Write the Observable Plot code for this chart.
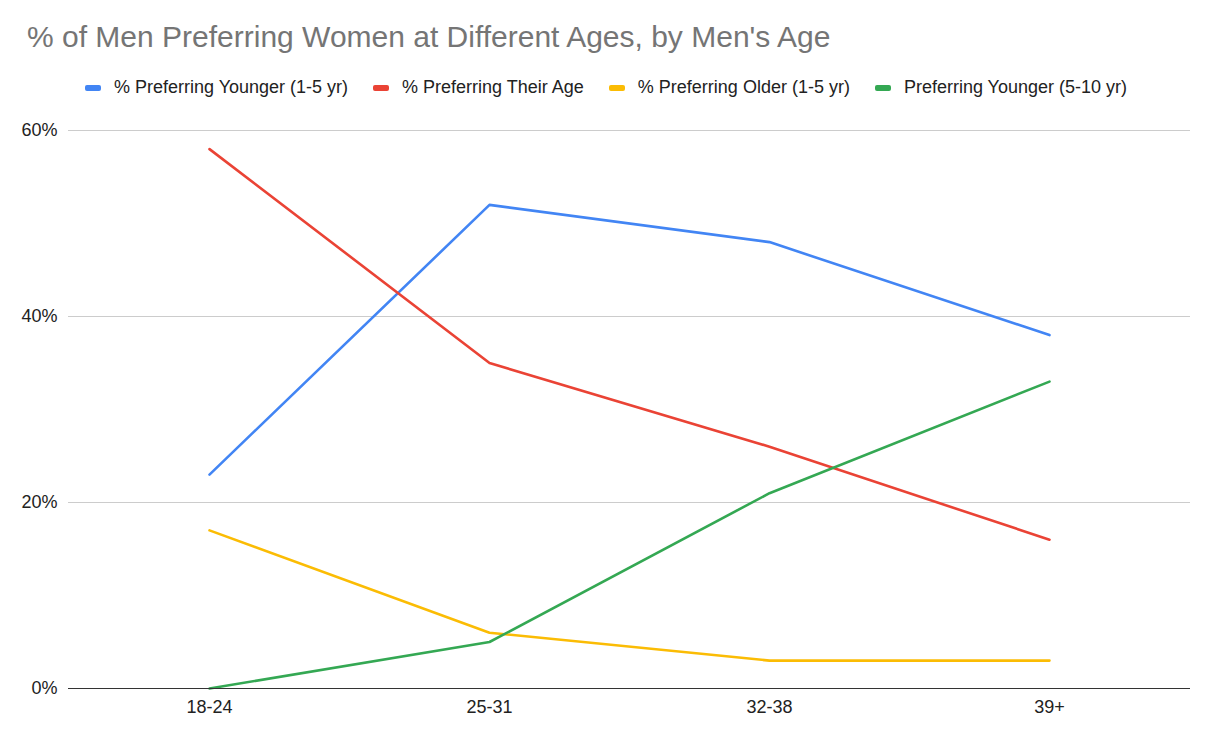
<!DOCTYPE html>
<html>
<head>
<meta charset="utf-8">
<script src="https://cdn.jsdelivr.net/npm/d3@7"></script>
<script src="https://cdn.jsdelivr.net/npm/@observablehq/plot@0.6"></script>
<style>
  html, body { margin: 0; padding: 0; background: #fff; }
  body { width: 1212px; height: 732px; overflow: hidden; font-family: "Liberation Sans", Arial, sans-serif; }
  #header { position: relative; height: 105px; }
  #title { position: absolute; left: 27px; top: 20px; font-size: 30px; color: #757575; white-space: nowrap; }
  #legend { position: absolute; left: 0; width: 1212px; top: 77px; display: flex; justify-content: center; gap: 25px; font-size: 18px; color: #222; }
  .item { display: flex; align-items: center; white-space: nowrap; }
  .sw { width: 16px; height: 6px; border-radius: 2px; margin-right: 13px; }
</style>
</head>
<body>
<div id="header">
  <div id="title">% of Men Preferring Women at Different Ages, by Men's Age</div>
  <div id="legend"></div>
</div>
<div id="chart"></div>
<script>
const ageGroups = ["18-24", "25-31", "32-38", "39+"];
const seriesNames = ["% Preferring Younger (1-5 yr)", "% Preferring Their Age", "% Preferring Older (1-5 yr)", "Preferring Younger (5-10 yr)"];
const seriesColors = ["#4285F4", "#EA4335", "#FBBC04", "#34A853"];
const younger1to5 = [23, 52, 48, 38];
const theirAge = [58, 35, 26, 16];
const older1to5 = [17, 6, 3, 3];
const younger5to10 = [0, 5, 21, 33];
const yTicks = [0, 20, 40, 60];

const seriesValues = [younger1to5, theirAge, older1to5, younger5to10];
const data = seriesValues.flatMap((vals, si) => vals.map((v, i) => ({series: seriesNames[si], age: ageGroups[i], value: v})));

const legend = document.getElementById("legend");
seriesNames.forEach((n, i) => {
  const it = document.createElement("div");
  it.className = "item";
  it.innerHTML = `<span class="sw" style="background:${seriesColors[i]}"></span><span>${n}</span>`;
  legend.appendChild(it);
});

const plot = Plot.plot({
  width: 1212,
  height: 627,
  marginLeft: 68,
  marginRight: 22,
  marginTop: 25,
  marginBottom: 44,
  style: {fontFamily: "'Liberation Sans', Arial, sans-serif", fontSize: "18px", color: "#222", background: "#fff"},
  x: {type: "point", domain: ageGroups, padding: 0.5, label: null},
  y: {domain: [0, 60], ticks: yTicks, label: null, tickFormat: d => d + "%"},
  color: {domain: seriesNames, range: seriesColors},
  marks: [
    Plot.gridY(yTicks.filter(t => t > 0), {stroke: "#cccccc", strokeOpacity: 1, strokeWidth: 1}),
    Plot.axisY({ticks: yTicks, tickSize: 0, tickPadding: 11, tickFormat: d => d + "%", label: null, fill: "#222"}),
    Plot.axisX({tickSize: 0, tickPadding: 12, label: null, fill: "#222"}),
    Plot.line(data, {x: "age", y: "value", z: "series", stroke: "series", strokeWidth: 2.6}),
    Plot.ruleY([0], {stroke: "#333", strokeWidth: 1.2})
  ]
});
document.getElementById("chart").appendChild(plot);
</script>
</body>
</html>
